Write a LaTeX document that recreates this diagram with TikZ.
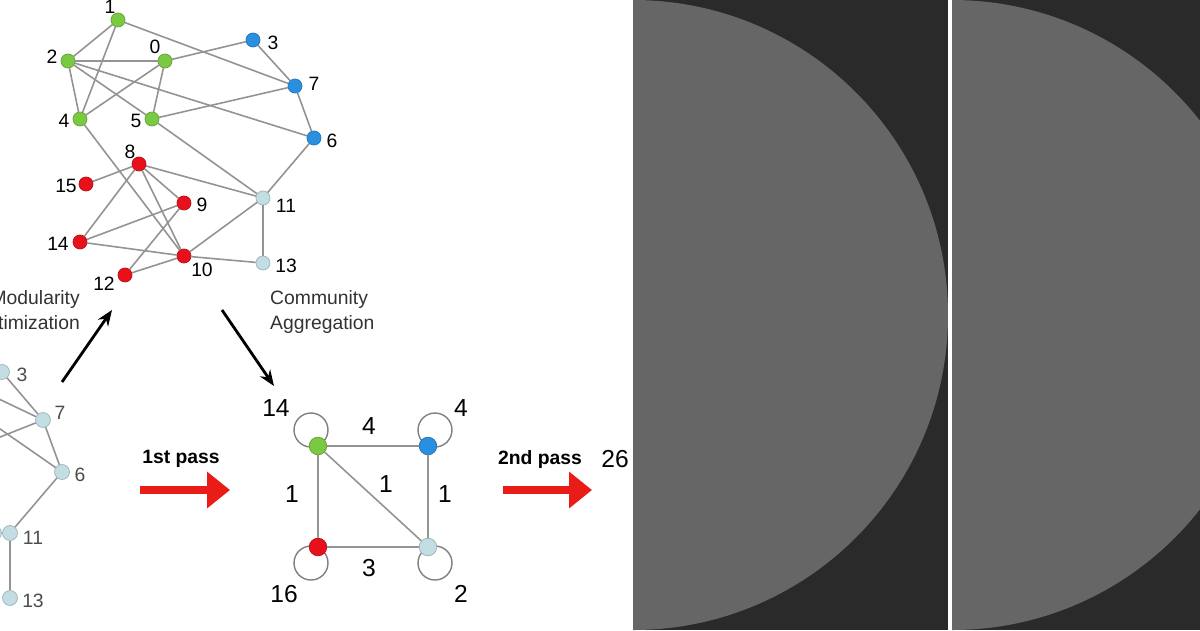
\documentclass[tikz,border=0pt]{standalone}
\usepackage{fontspec}
\setmainfont{Liberation Sans}
\usetikzlibrary{arrows.meta}
\definecolor{gr}{HTML}{7AC943}
\definecolor{bl}{HTML}{2B8FE0}
\definecolor{rd}{HTML}{E8111B}
\definecolor{lb}{HTML}{C2DEE3}
\definecolor{dk}{HTML}{2A2A2A}
\definecolor{md}{HTML}{666666}
\tikzset{
 v/.style={circle,minimum size=8pt,inner sep=0pt,draw=#1!80!black,fill=#1,line width=0.4pt},
 lab/.style={font=\fontsize{11}{12}\selectfont,inner sep=1pt},
 ed/.style={draw=gray!85,line width=0.9pt},
 big/.style={font=\fontsize{14}{16}\selectfont,inner sep=1pt},
 pass/.style={font=\bfseries\fontsize{11}{12}\selectfont},
 redarr/.style={draw=rd!90!orange,line width=5pt,-{Triangle[length=13pt,width=20pt]}},
 blk/.style={line width=1.6pt,-{Stealth[length=9pt,width=7pt]}},
 txt/.style={font=\fontsize{11}{14}\selectfont,text=black!80}
}
\begin{document}
\begin{tikzpicture}[x=0.02cm,y=-0.02cm]
\useasboundingbox (0,0) rectangle (1200,630);
\clip (0,0) rectangle (1200,630);
\fill[white] (0,0) rectangle (633,630);
\fill[dk] (633,0) rectangle (1200,630);
\fill[md] (633,0) arc[start angle=-90,end angle=90,radius=315] -- cycle;
\begin{scope}
\clip (952,0) rectangle (1200,630);
\fill[md] (952,0) arc[start angle=-90,end angle=90,radius=315] -- cycle;
\end{scope}
\fill[white] (948,0) rectangle (952,630);
% top graph
\foreach \n/\x/\y/\c in {1/118/20/gr,0/165/61/gr,2/68/61/gr,4/80/119/gr,5/152/119/gr,3/253/40/bl,7/295/86/bl,6/314/138/bl,8/139/164/rd,15/86/184/rd,9/184/203/rd,14/80/242/rd,10/184/256/rd,12/125/275/rd,11/263/198/lb,13/263/263/lb}
  \node[v=\c] (t\n) at (\x,\y) {};
\foreach \a/\b in {1/2,1/4,1/7,2/0,2/4,2/5,2/6,0/4,0/5,0/3,3/7,7/5,7/6,4/10,5/11,6/11,8/15,8/14,8/9,8/10,8/11,9/14,9/12,14/10,10/13,10/11,11/13,10/12}
  \draw[ed] (t\a) -- (t\b);
\node[lab] (l1) at (110,7) {1};
\node[lab] (l0) at (155,47) {0};
\node[lab] (l2) at (52,57) {2};
\node[lab] (l4) at (64,121) {4};
\node[lab] (l5) at (136,121) {5};
\node[lab] (l3) at (273,43) {3};
\node[lab] (l7) at (314,84) {7};
\node[lab] (l6) at (332,141) {6};
\node[lab] (l8) at (130,152) {8};
\node[lab] (l15) at (66,186) {15};
\node[lab] (l9) at (202,205) {9};
\node[lab] (l11) at (286,206) {11};
\node[lab] (l14) at (58,244) {14};
\node[lab] (l10) at (202,270) {10};
\node[lab] (l13) at (286,266) {13};
\node[lab] (l12) at (104,284) {12};
% left partial graph
\foreach \n/\x/\y in {3/2/372,7/43/420,6/62/472,11/10/533,13/10/598,a/-6/533}
  \node[v=lb,minimum size=8.5pt] (p\n) at (\x,\y) {};
\coordinate (q1) at (-20,390); \coordinate (q2) at (-20,445);
\coordinate (q3) at (-20,415);
\foreach \a/\b in {p3/p7,p7/p6,p6/p11,p11/p13,q1/p7,q2/p7,q3/p6}
  \draw[ed] (\a) -- (\b);
\node[lab,text=black!70] (lp3) at (22,375) {3};
\node[lab,text=black!70] (lp7) at (60,413) {7};
\node[lab,text=black!70] (lp6) at (80,475) {6};
\node[lab,text=black!70] (lp11) at (33,538) {11};
\node[lab,text=black!70] (lp13) at (33,601) {13};
% texts and arrows
\node[txt,align=right,anchor=east] (mo) at (86,312) {Modularity\\Optimization};
\node[txt,align=left,anchor=west] (ca) at (264,312) {Community\\Aggregation};
\coordinate (a1) at (62,382); \coordinate (a2) at (112,310);
\coordinate (b1) at (222,310); \coordinate (b2) at (274,386);
\draw[blk] (a1) -- (a2);
\draw[blk] (b1) -- (b2);
\node[pass] (p1) at (181,459) {1st pass};
\node[pass] (p2) at (540,459) {2nd pass};
\node[big] (n26) at (615,459) {26};
\coordinate (r1) at (140,490); \coordinate (r2) at (230,490);
\coordinate (r3) at (503,490); \coordinate (r4) at (592,490);
\draw[redarr] (r1) -- (r2);
\draw[redarr] (r3) -- (r4);
% aggregated graph
\draw[gray,line width=0.8pt] (311,430) circle[radius=17];
\draw[gray,line width=0.8pt] (435,430) circle[radius=17];
\draw[gray,line width=0.8pt] (311,563) circle[radius=17];
\draw[gray,line width=0.8pt] (435,563) circle[radius=17];
\node[v=gr,minimum size=10pt] (G) at (318,446) {};
\node[v=bl,minimum size=10pt] (B) at (428,446) {};
\node[v=rd,minimum size=10pt] (R) at (318,547) {};
\node[v=lb,minimum size=10pt] (L) at (428,547) {};
\draw[ed] (G) -- (B); \draw[ed] (G) -- (R); \draw[ed] (G) -- (L);
\draw[ed] (B) -- (L); \draw[ed] (R) -- (L);
\node[big] (w14) at (276,408) {14};
\node[big] (w4a) at (461,408) {4};
\node[big] (w16) at (284,594) {16};
\node[big] (w2) at (461,594) {2};
\node[big] (e4) at (369,426) {4};
\node[big] (e1a) at (292,494) {1};
\node[big] (e1b) at (386,484) {1};
\node[big] (e1c) at (445,494) {1};
\node[big] (e3) at (369,568) {3};
\end{tikzpicture}
\end{document}
